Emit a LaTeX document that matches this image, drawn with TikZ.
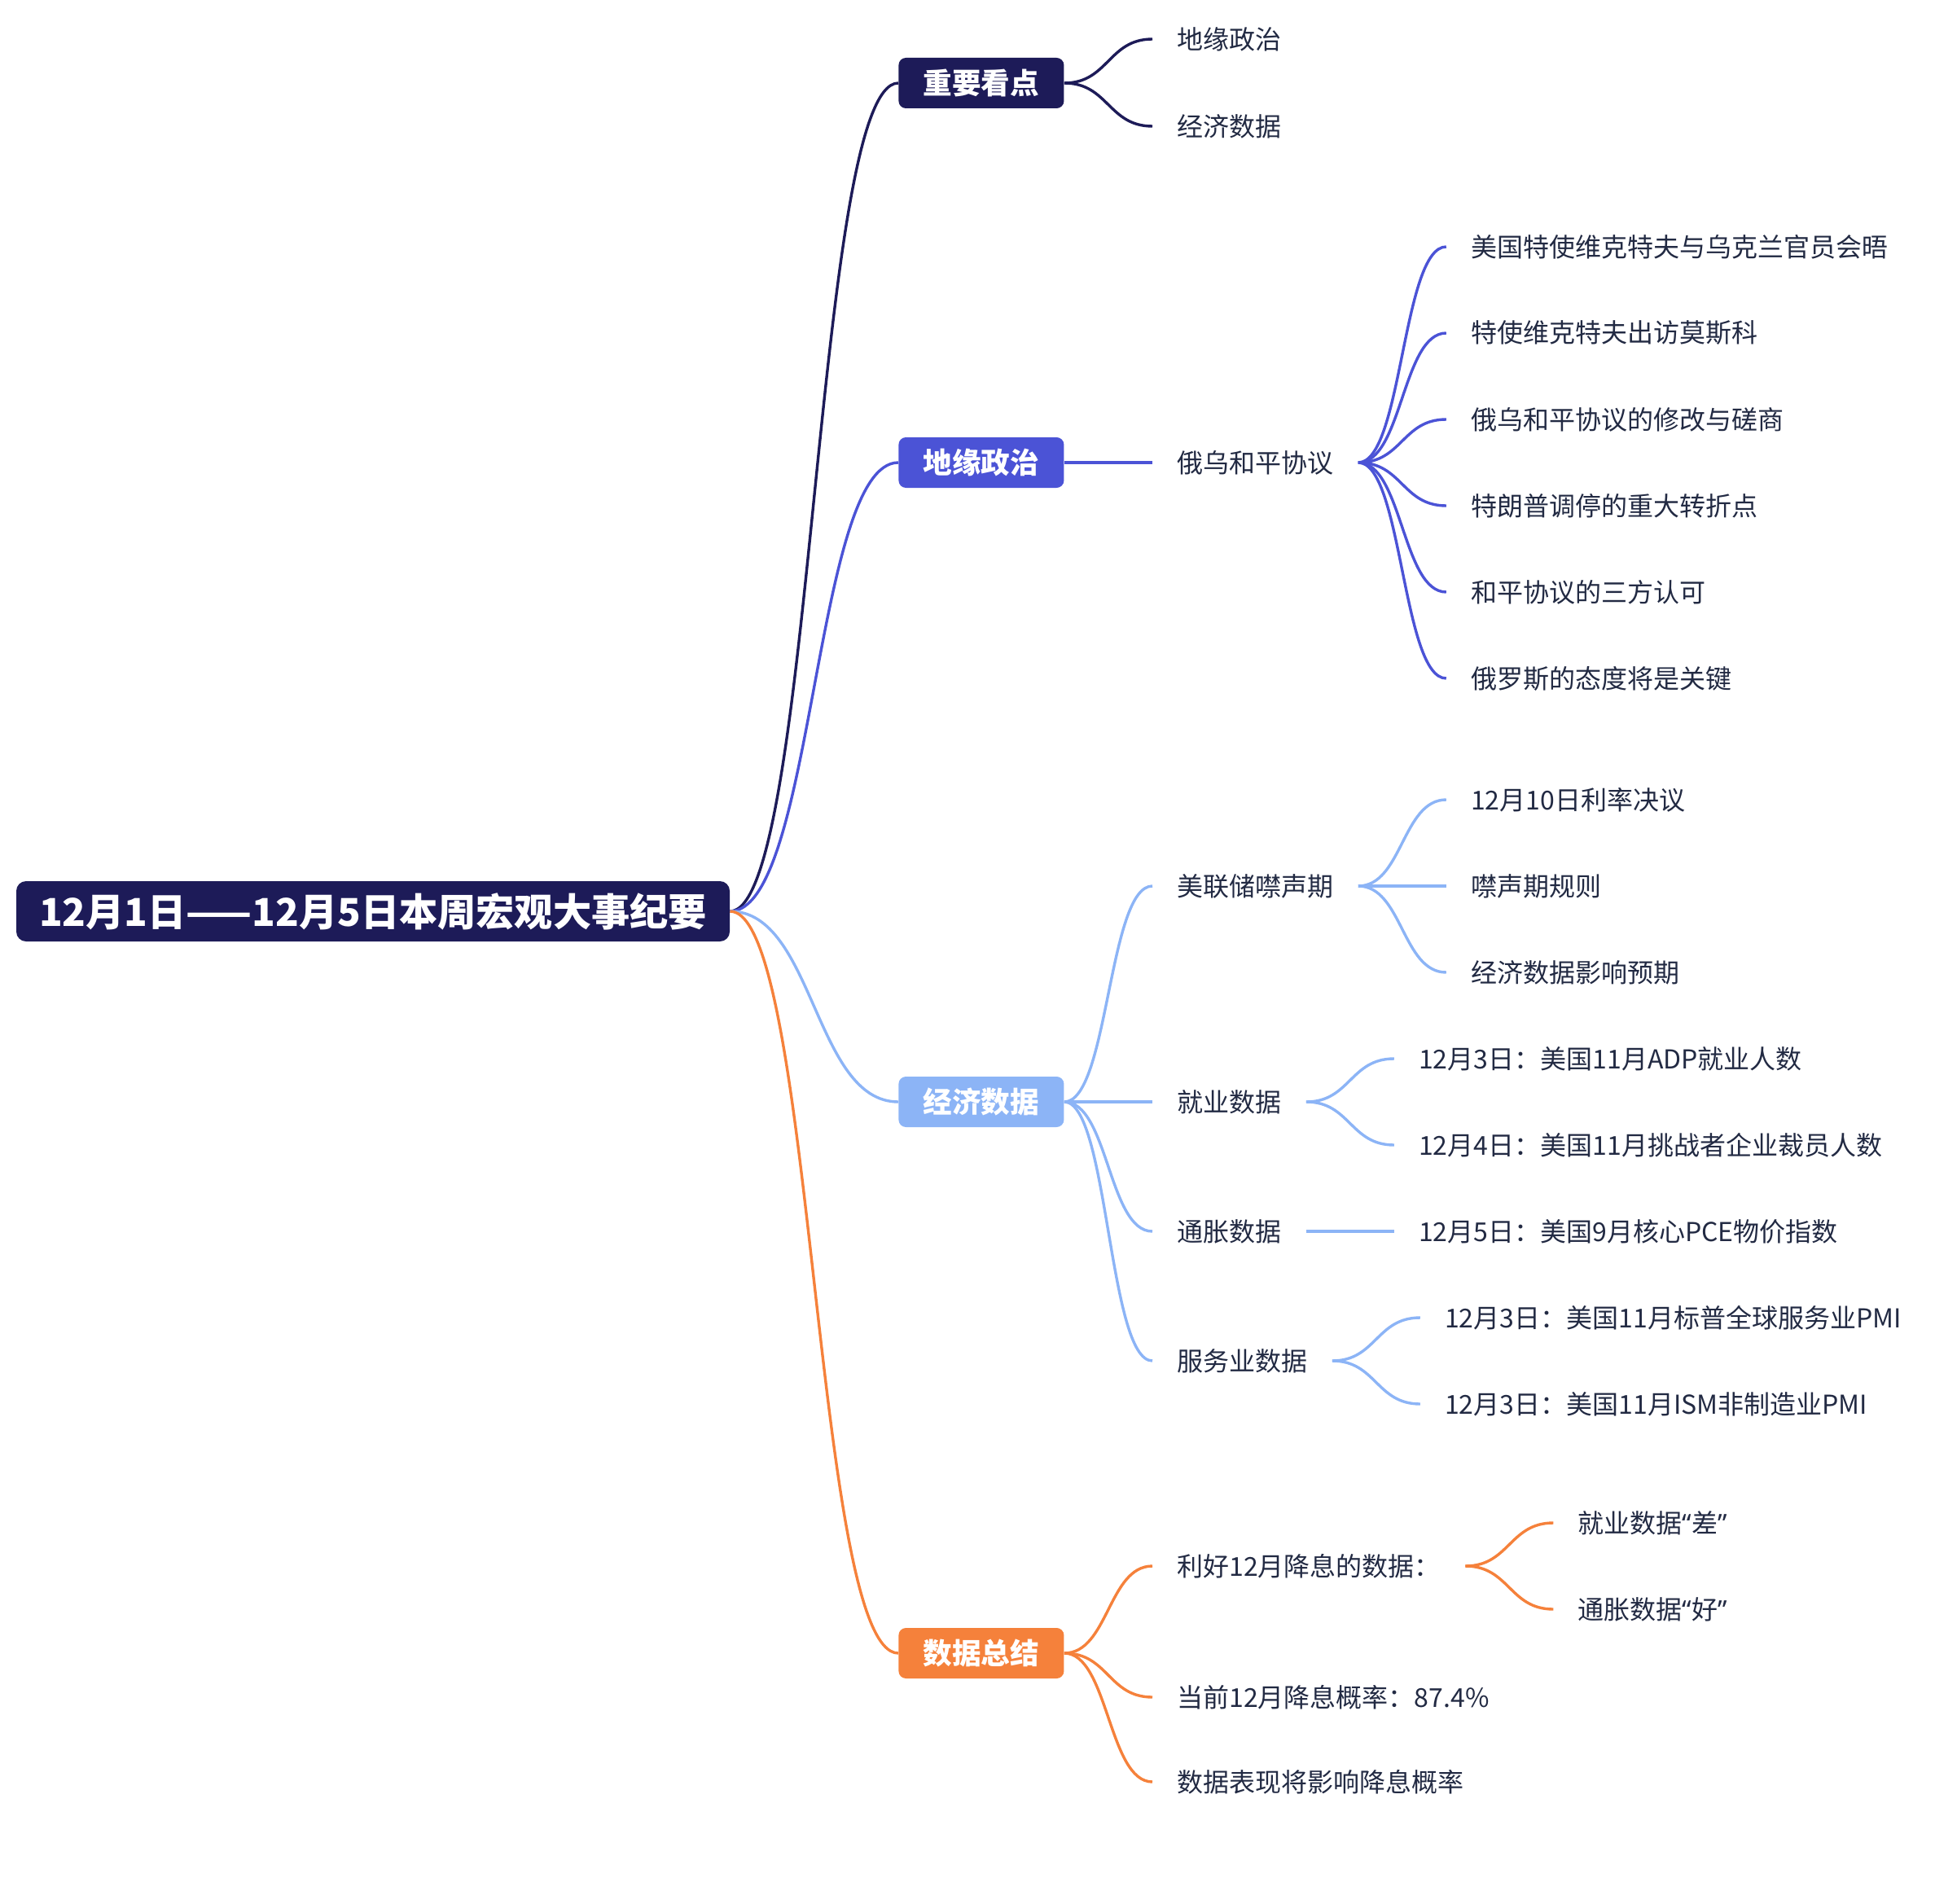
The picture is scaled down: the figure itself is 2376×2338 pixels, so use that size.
\documentclass[tikz,border=0pt]{standalone}
\usepackage{fontspec}
\setmainfont{Noto Sans CJK SC}
\newfontfamily\quotefont{Noto Sans}
\usetikzlibrary{calc,positioning}

\definecolor{navy}{HTML}{1D1B58}
\definecolor{indigo}{HTML}{4B53D6}
\definecolor{skyblue}{HTML}{8CB4F6}
\definecolor{tangerine}{HTML}{F5813B}
\definecolor{inkgray}{HTML}{222A43}

\tikzset{
  rootbox/.style={fill=navy, text=white, rounded corners=6pt,
    font=\fontsize{23.6}{28}\selectfont\bfseries, minimum width=438pt, minimum height=37pt},
  topic/.style={fill=#1, text=white, rounded corners=4.5pt, anchor=west,
    font=\fontsize{17.8}{21}\selectfont\bfseries, minimum width=101.5pt, minimum height=31pt},
  leaf/.style={text=inkgray, font=\fontsize{16}{19}\selectfont, inner xsep=15pt, inner ysep=2pt, anchor=west},
  branch/.style={draw=#1, line width=1.7pt,
    to path={.. controls ($(\tikztostart)!.5!(\tikztotarget|-\tikztostart)$)
      and ($(\tikztotarget)!.5!(\tikztostart|-\tikztotarget)$) .. (\tikztotarget)}},
}

\begin{document}
\begin{tikzpicture}[x=0.5pt,y=-0.5pt]
  \useasboundingbox (0,0) rectangle (2376,2338);

  % root and main topics
  \node[rootbox] (root) at (458,1119) {12月1日——12月5日本周宏观大事纪要};
  \node[topic=navy] (kd) at (1103,102) {重要看点};
  \node[topic=indigo] (dy) at (1103,568) {地缘政治};
  \node[topic=skyblue] (jj) at (1103,1353) {经济数据};
  \node[topic=tangerine] (sj) at (1103,2030) {数据总结};

  \draw[branch=navy] (root.east) to (kd.west);
  \draw[branch=indigo] (root.east) to (dy.west);
  \draw[branch=skyblue] (root.east) to (jj.west);
  \draw[branch=tangerine] (root.east) to (sj.west);

  % 重要看点
  \node[leaf] (kd1) at (1415,48) {地缘政治};
  \node[leaf] (kd2) at (1415,155) {经济数据};
  \draw[branch=navy] (kd.east) to (kd1.west);
  \draw[branch=navy] (kd.east) to (kd2.west);

  % 地缘政治
  \node[leaf] (ew) at (1415,568) {俄乌和平协议};
  \draw[branch=indigo] (dy.east) to (ew.west);
  \node[leaf, right=54pt of ew, yshift=132.5pt] (ew1) {美国特使维克特夫与乌克兰官员会晤};
  \node[leaf, right=54pt of ew, yshift=79.5pt] (ew2) {特使维克特夫出访莫斯科};
  \node[leaf, right=54pt of ew, yshift=26.5pt] (ew3) {俄乌和平协议的修改与磋商};
  \node[leaf, right=54pt of ew, yshift=-26.5pt] (ew4) {特朗普调停的重大转折点};
  \node[leaf, right=54pt of ew, yshift=-79.5pt] (ew5) {和平协议的三方认可};
  \node[leaf, right=54pt of ew, yshift=-132.5pt] (ew6) {俄罗斯的态度将是关键};
  \foreach \i in {1,...,6}
    \draw[branch=indigo] (ew.east) to (ew\i.west);

  % 经济数据
  \node[leaf] (fed) at (1415,1088) {美联储噤声期};
  \node[leaf] (job) at (1415,1353) {就业数据};
  \node[leaf] (cpi) at (1415,1512) {通胀数据};
  \node[leaf] (svc) at (1415,1671) {服务业数据};
  \foreach \n in {fed,job,cpi,svc}
    \draw[branch=skyblue] (jj.east) to (\n.west);

  \node[leaf, right=54pt of fed, yshift=53pt] (fed1) {12月10日利率决议};
  \node[leaf, right=54pt of fed] (fed2) {噤声期规则};
  \node[leaf, right=54pt of fed, yshift=-53pt] (fed3) {经济数据影响预期};
  \node[leaf, right=54pt of job, yshift=26.5pt] (job1) {12月3日：美国11月ADP就业人数};
  \node[leaf, right=54pt of job, yshift=-26.5pt] (job2) {12月4日：美国11月挑战者企业裁员人数};
  \node[leaf, right=54pt of cpi] (cpi1) {12月5日：美国9月核心PCE物价指数};
  \node[leaf, right=54pt of svc, yshift=26.5pt] (svc1) {12月3日：美国11月标普全球服务业PMI};
  \node[leaf, right=54pt of svc, yshift=-26.5pt] (svc2) {12月3日：美国11月ISM非制造业PMI};
  \foreach \i in {1,2,3}
    \draw[branch=skyblue] (fed.east) to (fed\i.west);
  \draw[branch=skyblue] (job.east) to (job1.west);
  \draw[branch=skyblue] (job.east) to (job2.west);
  \draw[branch=skyblue] (cpi.east) to (cpi1.west);
  \draw[branch=skyblue] (svc.east) to (svc1.west);
  \draw[branch=skyblue] (svc.east) to (svc2.west);

  % 数据总结
  \node[leaf] (good) at (1415,1923) {利好12月降息的数据：};
  \node[leaf] (prob) at (1415,2084) {当前12月降息概率：87.4\%};
  \node[leaf] (perf) at (1415,2188) {数据表现将影响降息概率};
  \foreach \n in {good,prob,perf}
    \draw[branch=tangerine] (sj.east) to (\n.west);
  \node[leaf, right=54pt of good, yshift=26.5pt] (good1) {就业数据{\quotefont “}差{\quotefont ”}};
  \node[leaf, right=54pt of good, yshift=-26.5pt] (good2) {通胀数据{\quotefont “}好{\quotefont ”}};
  \draw[branch=tangerine] (good.east) to (good1.west);
  \draw[branch=tangerine] (good.east) to (good2.west);
\end{tikzpicture}
\end{document}
